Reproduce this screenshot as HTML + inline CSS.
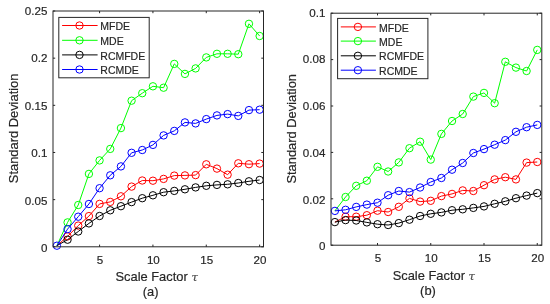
<!DOCTYPE html>
<html><head><meta charset="utf-8"><title>Standard Deviation vs Scale Factor</title>
<style>
html,body{margin:0;padding:0;background:#fff;}
body{width:550px;height:304px;overflow:hidden;}
svg{display:block;}
text{font-family:"Liberation Sans",Arial,sans-serif;fill:#262626;stroke:#262626;stroke-width:0.18px;}
.tk{font-size:11.6px;}
.lg{font-size:10.5px;}
.lb{font-size:12.9px;}
.tau{font-family:"DejaVu Serif",serif;font-style:italic;font-size:11.5px;fill:#555;}
</style></head>
<body>
<svg width="550" height="304" viewBox="0 0 550 304">
<rect width="550" height="304" fill="#fff"/>
<polyline points="56.9,245.7 67.57,236.4 78.24,225.6 88.91,216.1 99.58,203.9 110.25,201.9 120.92,196.3 131.59,186.6 142.26,180.5 152.93,180.7 163.6,178.9 174.27,175.6 184.94,175.4 195.61,175.1 206.28,164.3 216.95,168.6 227.62,174.7 238.29,163.3 248.96,164.2 259.63,163.6" fill="none" stroke="#ff0000" stroke-width="1"/>
<circle cx="67.57" cy="236.4" r="3.7" fill="none" stroke="#ff0000" stroke-width="1"/>
<circle cx="78.24" cy="225.6" r="3.7" fill="none" stroke="#ff0000" stroke-width="1"/>
<circle cx="88.91" cy="216.1" r="3.7" fill="none" stroke="#ff0000" stroke-width="1"/>
<circle cx="99.58" cy="203.9" r="3.7" fill="none" stroke="#ff0000" stroke-width="1"/>
<circle cx="110.25" cy="201.9" r="3.7" fill="none" stroke="#ff0000" stroke-width="1"/>
<circle cx="120.92" cy="196.3" r="3.7" fill="none" stroke="#ff0000" stroke-width="1"/>
<circle cx="131.59" cy="186.6" r="3.7" fill="none" stroke="#ff0000" stroke-width="1"/>
<circle cx="142.26" cy="180.5" r="3.7" fill="none" stroke="#ff0000" stroke-width="1"/>
<circle cx="152.93" cy="180.7" r="3.7" fill="none" stroke="#ff0000" stroke-width="1"/>
<circle cx="163.6" cy="178.9" r="3.7" fill="none" stroke="#ff0000" stroke-width="1"/>
<circle cx="174.27" cy="175.6" r="3.7" fill="none" stroke="#ff0000" stroke-width="1"/>
<circle cx="184.94" cy="175.4" r="3.7" fill="none" stroke="#ff0000" stroke-width="1"/>
<circle cx="195.61" cy="175.1" r="3.7" fill="none" stroke="#ff0000" stroke-width="1"/>
<circle cx="206.28" cy="164.3" r="3.7" fill="none" stroke="#ff0000" stroke-width="1"/>
<circle cx="216.95" cy="168.6" r="3.7" fill="none" stroke="#ff0000" stroke-width="1"/>
<circle cx="227.62" cy="174.7" r="3.7" fill="none" stroke="#ff0000" stroke-width="1"/>
<circle cx="238.29" cy="163.3" r="3.7" fill="none" stroke="#ff0000" stroke-width="1"/>
<circle cx="248.96" cy="164.2" r="3.7" fill="none" stroke="#ff0000" stroke-width="1"/>
<circle cx="259.63" cy="163.6" r="3.7" fill="none" stroke="#ff0000" stroke-width="1"/>
<polyline points="56.9,245.7 67.57,222.4 78.24,205 88.91,173.9 99.58,160.4 110.25,148.9 120.92,128.1 131.59,100.7 142.26,93.2 152.93,86.3 163.6,87.7 174.27,63.9 184.94,73.9 195.61,68.4 206.28,57.4 216.95,53.8 227.62,53.8 238.29,54.2 248.96,23.8 259.63,36" fill="none" stroke="#00ff00" stroke-width="1"/>
<circle cx="67.57" cy="222.4" r="3.7" fill="none" stroke="#00ff00" stroke-width="1"/>
<circle cx="78.24" cy="205" r="3.7" fill="none" stroke="#00ff00" stroke-width="1"/>
<circle cx="88.91" cy="173.9" r="3.7" fill="none" stroke="#00ff00" stroke-width="1"/>
<circle cx="99.58" cy="160.4" r="3.7" fill="none" stroke="#00ff00" stroke-width="1"/>
<circle cx="110.25" cy="148.9" r="3.7" fill="none" stroke="#00ff00" stroke-width="1"/>
<circle cx="120.92" cy="128.1" r="3.7" fill="none" stroke="#00ff00" stroke-width="1"/>
<circle cx="131.59" cy="100.7" r="3.7" fill="none" stroke="#00ff00" stroke-width="1"/>
<circle cx="142.26" cy="93.2" r="3.7" fill="none" stroke="#00ff00" stroke-width="1"/>
<circle cx="152.93" cy="86.3" r="3.7" fill="none" stroke="#00ff00" stroke-width="1"/>
<circle cx="163.6" cy="87.7" r="3.7" fill="none" stroke="#00ff00" stroke-width="1"/>
<circle cx="174.27" cy="63.9" r="3.7" fill="none" stroke="#00ff00" stroke-width="1"/>
<circle cx="184.94" cy="73.9" r="3.7" fill="none" stroke="#00ff00" stroke-width="1"/>
<circle cx="195.61" cy="68.4" r="3.7" fill="none" stroke="#00ff00" stroke-width="1"/>
<circle cx="206.28" cy="57.4" r="3.7" fill="none" stroke="#00ff00" stroke-width="1"/>
<circle cx="216.95" cy="53.8" r="3.7" fill="none" stroke="#00ff00" stroke-width="1"/>
<circle cx="227.62" cy="53.8" r="3.7" fill="none" stroke="#00ff00" stroke-width="1"/>
<circle cx="238.29" cy="54.2" r="3.7" fill="none" stroke="#00ff00" stroke-width="1"/>
<circle cx="248.96" cy="23.8" r="3.7" fill="none" stroke="#00ff00" stroke-width="1"/>
<circle cx="259.63" cy="36" r="3.7" fill="none" stroke="#00ff00" stroke-width="1"/>
<polyline points="56.9,245.7 67.57,239.7 78.24,231.5 88.91,223.4 99.58,216 110.25,210.3 120.92,206.2 131.59,202.1 142.26,198.2 152.93,195.3 163.6,192.2 174.27,190.9 184.94,189.3 195.61,187.4 206.28,185.8 216.95,184.9 227.62,184.3 238.29,183 248.96,181.3 259.63,180" fill="none" stroke="#000000" stroke-width="1"/>
<circle cx="67.57" cy="239.7" r="3.7" fill="none" stroke="#000000" stroke-width="1"/>
<circle cx="78.24" cy="231.5" r="3.7" fill="none" stroke="#000000" stroke-width="1"/>
<circle cx="88.91" cy="223.4" r="3.7" fill="none" stroke="#000000" stroke-width="1"/>
<circle cx="99.58" cy="216" r="3.7" fill="none" stroke="#000000" stroke-width="1"/>
<circle cx="110.25" cy="210.3" r="3.7" fill="none" stroke="#000000" stroke-width="1"/>
<circle cx="120.92" cy="206.2" r="3.7" fill="none" stroke="#000000" stroke-width="1"/>
<circle cx="131.59" cy="202.1" r="3.7" fill="none" stroke="#000000" stroke-width="1"/>
<circle cx="142.26" cy="198.2" r="3.7" fill="none" stroke="#000000" stroke-width="1"/>
<circle cx="152.93" cy="195.3" r="3.7" fill="none" stroke="#000000" stroke-width="1"/>
<circle cx="163.6" cy="192.2" r="3.7" fill="none" stroke="#000000" stroke-width="1"/>
<circle cx="174.27" cy="190.9" r="3.7" fill="none" stroke="#000000" stroke-width="1"/>
<circle cx="184.94" cy="189.3" r="3.7" fill="none" stroke="#000000" stroke-width="1"/>
<circle cx="195.61" cy="187.4" r="3.7" fill="none" stroke="#000000" stroke-width="1"/>
<circle cx="206.28" cy="185.8" r="3.7" fill="none" stroke="#000000" stroke-width="1"/>
<circle cx="216.95" cy="184.9" r="3.7" fill="none" stroke="#000000" stroke-width="1"/>
<circle cx="227.62" cy="184.3" r="3.7" fill="none" stroke="#000000" stroke-width="1"/>
<circle cx="238.29" cy="183" r="3.7" fill="none" stroke="#000000" stroke-width="1"/>
<circle cx="248.96" cy="181.3" r="3.7" fill="none" stroke="#000000" stroke-width="1"/>
<circle cx="259.63" cy="180" r="3.7" fill="none" stroke="#000000" stroke-width="1"/>
<polyline points="56.9,245.7 67.57,229.1 78.24,216.7 88.91,204 99.58,188.2 110.25,175.3 120.92,166.4 131.59,152.8 142.26,150 152.93,144.9 163.6,135.4 174.27,130.9 184.94,122.4 195.61,123.4 206.28,119.1 216.95,115.4 227.62,114.1 238.29,115.9 248.96,110.1 259.63,109.7" fill="none" stroke="#0000ff" stroke-width="1"/>
<circle cx="56.9" cy="245.7" r="3.7" fill="none" stroke="#0000ff" stroke-width="1"/>
<circle cx="67.57" cy="229.1" r="3.7" fill="none" stroke="#0000ff" stroke-width="1"/>
<circle cx="78.24" cy="216.7" r="3.7" fill="none" stroke="#0000ff" stroke-width="1"/>
<circle cx="88.91" cy="204" r="3.7" fill="none" stroke="#0000ff" stroke-width="1"/>
<circle cx="99.58" cy="188.2" r="3.7" fill="none" stroke="#0000ff" stroke-width="1"/>
<circle cx="110.25" cy="175.3" r="3.7" fill="none" stroke="#0000ff" stroke-width="1"/>
<circle cx="120.92" cy="166.4" r="3.7" fill="none" stroke="#0000ff" stroke-width="1"/>
<circle cx="131.59" cy="152.8" r="3.7" fill="none" stroke="#0000ff" stroke-width="1"/>
<circle cx="142.26" cy="150" r="3.7" fill="none" stroke="#0000ff" stroke-width="1"/>
<circle cx="152.93" cy="144.9" r="3.7" fill="none" stroke="#0000ff" stroke-width="1"/>
<circle cx="163.6" cy="135.4" r="3.7" fill="none" stroke="#0000ff" stroke-width="1"/>
<circle cx="174.27" cy="130.9" r="3.7" fill="none" stroke="#0000ff" stroke-width="1"/>
<circle cx="184.94" cy="122.4" r="3.7" fill="none" stroke="#0000ff" stroke-width="1"/>
<circle cx="195.61" cy="123.4" r="3.7" fill="none" stroke="#0000ff" stroke-width="1"/>
<circle cx="206.28" cy="119.1" r="3.7" fill="none" stroke="#0000ff" stroke-width="1"/>
<circle cx="216.95" cy="115.4" r="3.7" fill="none" stroke="#0000ff" stroke-width="1"/>
<circle cx="227.62" cy="114.1" r="3.7" fill="none" stroke="#0000ff" stroke-width="1"/>
<circle cx="238.29" cy="115.9" r="3.7" fill="none" stroke="#0000ff" stroke-width="1"/>
<circle cx="248.96" cy="110.1" r="3.7" fill="none" stroke="#0000ff" stroke-width="1"/>
<circle cx="259.63" cy="109.7" r="3.7" fill="none" stroke="#0000ff" stroke-width="1"/>
<rect x="53" y="11" width="210.5" height="235.8" fill="none" stroke="#262626" stroke-width="1"/>
<line x1="99.58" y1="246.8" x2="99.58" y2="244.6" stroke="#262626" stroke-width="1"/>
<line x1="99.58" y1="11" x2="99.58" y2="13.2" stroke="#262626" stroke-width="1"/>
<text x="99.98" y="263.8" text-anchor="middle" class="tk">5</text>
<line x1="152.93" y1="246.8" x2="152.93" y2="244.6" stroke="#262626" stroke-width="1"/>
<line x1="152.93" y1="11" x2="152.93" y2="13.2" stroke="#262626" stroke-width="1"/>
<text x="153.33" y="263.8" text-anchor="middle" class="tk">10</text>
<line x1="206.28" y1="246.8" x2="206.28" y2="244.6" stroke="#262626" stroke-width="1"/>
<line x1="206.28" y1="11" x2="206.28" y2="13.2" stroke="#262626" stroke-width="1"/>
<text x="206.68" y="263.8" text-anchor="middle" class="tk">15</text>
<line x1="259.63" y1="246.8" x2="259.63" y2="244.6" stroke="#262626" stroke-width="1"/>
<line x1="259.63" y1="11" x2="259.63" y2="13.2" stroke="#262626" stroke-width="1"/>
<text x="260.03" y="263.8" text-anchor="middle" class="tk">20</text>
<line x1="53" y1="246.8" x2="55.2" y2="246.8" stroke="#262626" stroke-width="1"/>
<line x1="263.5" y1="246.8" x2="261.3" y2="246.8" stroke="#262626" stroke-width="1"/>
<text x="47.4" y="252.05" text-anchor="end" class="tk">0</text>
<line x1="53" y1="199.64" x2="55.2" y2="199.64" stroke="#262626" stroke-width="1"/>
<line x1="263.5" y1="199.64" x2="261.3" y2="199.64" stroke="#262626" stroke-width="1"/>
<text x="47.4" y="204.5" text-anchor="end" class="tk">0.05</text>
<line x1="53" y1="152.48" x2="55.2" y2="152.48" stroke="#262626" stroke-width="1"/>
<line x1="263.5" y1="152.48" x2="261.3" y2="152.48" stroke="#262626" stroke-width="1"/>
<text x="47.4" y="157.35" text-anchor="end" class="tk">0.1</text>
<line x1="53" y1="105.32" x2="55.2" y2="105.32" stroke="#262626" stroke-width="1"/>
<line x1="263.5" y1="105.32" x2="261.3" y2="105.32" stroke="#262626" stroke-width="1"/>
<text x="47.4" y="109.75" text-anchor="end" class="tk">0.15</text>
<line x1="53" y1="58.16" x2="55.2" y2="58.16" stroke="#262626" stroke-width="1"/>
<line x1="263.5" y1="58.16" x2="261.3" y2="58.16" stroke="#262626" stroke-width="1"/>
<text x="47.4" y="62.25" text-anchor="end" class="tk">0.2</text>
<line x1="53" y1="11" x2="55.2" y2="11" stroke="#262626" stroke-width="1"/>
<line x1="263.5" y1="11" x2="261.3" y2="11" stroke="#262626" stroke-width="1"/>
<text x="47.4" y="15" text-anchor="end" class="tk">0.25</text>
<rect x="58.8" y="17.4" width="90.4" height="60.4" fill="#ffffff" stroke="#262626" stroke-width="1"/>
<line x1="62.1" y1="25.5" x2="97.6" y2="25.5" stroke="#ff0000" stroke-width="1"/>
<circle cx="79.5" cy="25.5" r="3.7" fill="none" stroke="#ff0000" stroke-width="1"/>
<text x="100.3" y="30.1" class="lg">MFDE</text>
<line x1="62.1" y1="40.3" x2="97.6" y2="40.3" stroke="#00ff00" stroke-width="1"/>
<circle cx="79.5" cy="40.3" r="3.7" fill="none" stroke="#00ff00" stroke-width="1"/>
<text x="100.3" y="44.9" class="lg">MDE</text>
<line x1="62.1" y1="54.9" x2="97.6" y2="54.9" stroke="#000000" stroke-width="1"/>
<circle cx="79.5" cy="54.9" r="3.7" fill="none" stroke="#000000" stroke-width="1"/>
<text x="100.3" y="59.5" class="lg">RCMFDE</text>
<line x1="62.1" y1="69.5" x2="97.6" y2="69.5" stroke="#0000ff" stroke-width="1"/>
<circle cx="79.5" cy="69.5" r="3.7" fill="none" stroke="#0000ff" stroke-width="1"/>
<text x="100.3" y="74.1" class="lg">RCMDE</text>
<text x="156.6" y="281.1" text-anchor="middle" class="lb">Scale Factor <tspan class="tau">&#964;</tspan></text>
<text x="150.6" y="296.4" text-anchor="middle" class="lb">(a)</text>
<text transform="translate(17.6,128.4) rotate(-90)" text-anchor="middle" class="lb">Standard Deviation</text>
<polyline points="334.9,222.1 345.55,216.7 356.2,216.7 366.85,215.2 377.5,210.7 388.15,212 398.8,206.8 409.45,198.4 420.1,201.6 430.75,200.8 441.4,196.1 452.05,193.9 462.7,190.4 473.35,191 484,185.2 494.65,179.4 505.3,177.2 515.95,179.4 526.6,162.6 537.25,162" fill="none" stroke="#ff0000" stroke-width="1"/>
<circle cx="345.55" cy="216.7" r="3.7" fill="none" stroke="#ff0000" stroke-width="1"/>
<circle cx="356.2" cy="216.7" r="3.7" fill="none" stroke="#ff0000" stroke-width="1"/>
<circle cx="366.85" cy="215.2" r="3.7" fill="none" stroke="#ff0000" stroke-width="1"/>
<circle cx="377.5" cy="210.7" r="3.7" fill="none" stroke="#ff0000" stroke-width="1"/>
<circle cx="388.15" cy="212" r="3.7" fill="none" stroke="#ff0000" stroke-width="1"/>
<circle cx="398.8" cy="206.8" r="3.7" fill="none" stroke="#ff0000" stroke-width="1"/>
<circle cx="409.45" cy="198.4" r="3.7" fill="none" stroke="#ff0000" stroke-width="1"/>
<circle cx="420.1" cy="201.6" r="3.7" fill="none" stroke="#ff0000" stroke-width="1"/>
<circle cx="430.75" cy="200.8" r="3.7" fill="none" stroke="#ff0000" stroke-width="1"/>
<circle cx="441.4" cy="196.1" r="3.7" fill="none" stroke="#ff0000" stroke-width="1"/>
<circle cx="452.05" cy="193.9" r="3.7" fill="none" stroke="#ff0000" stroke-width="1"/>
<circle cx="462.7" cy="190.4" r="3.7" fill="none" stroke="#ff0000" stroke-width="1"/>
<circle cx="473.35" cy="191" r="3.7" fill="none" stroke="#ff0000" stroke-width="1"/>
<circle cx="484" cy="185.2" r="3.7" fill="none" stroke="#ff0000" stroke-width="1"/>
<circle cx="494.65" cy="179.4" r="3.7" fill="none" stroke="#ff0000" stroke-width="1"/>
<circle cx="505.3" cy="177.2" r="3.7" fill="none" stroke="#ff0000" stroke-width="1"/>
<circle cx="515.95" cy="179.4" r="3.7" fill="none" stroke="#ff0000" stroke-width="1"/>
<circle cx="526.6" cy="162.6" r="3.7" fill="none" stroke="#ff0000" stroke-width="1"/>
<circle cx="537.25" cy="162" r="3.7" fill="none" stroke="#ff0000" stroke-width="1"/>
<polyline points="334.9,210.9 345.55,197 356.2,185.8 366.85,180.7 377.5,166.8 388.15,171.5 398.8,162.4 409.45,148.2 420.1,141.7 430.75,159.6 441.4,133.9 452.05,121 462.7,114 473.35,96.6 484,92.9 494.65,103.2 505.3,61.8 515.95,67.6 526.6,71 537.25,49.9" fill="none" stroke="#00ff00" stroke-width="1"/>
<circle cx="345.55" cy="197" r="3.7" fill="none" stroke="#00ff00" stroke-width="1"/>
<circle cx="356.2" cy="185.8" r="3.7" fill="none" stroke="#00ff00" stroke-width="1"/>
<circle cx="366.85" cy="180.7" r="3.7" fill="none" stroke="#00ff00" stroke-width="1"/>
<circle cx="377.5" cy="166.8" r="3.7" fill="none" stroke="#00ff00" stroke-width="1"/>
<circle cx="388.15" cy="171.5" r="3.7" fill="none" stroke="#00ff00" stroke-width="1"/>
<circle cx="398.8" cy="162.4" r="3.7" fill="none" stroke="#00ff00" stroke-width="1"/>
<circle cx="409.45" cy="148.2" r="3.7" fill="none" stroke="#00ff00" stroke-width="1"/>
<circle cx="420.1" cy="141.7" r="3.7" fill="none" stroke="#00ff00" stroke-width="1"/>
<circle cx="430.75" cy="159.6" r="3.7" fill="none" stroke="#00ff00" stroke-width="1"/>
<circle cx="441.4" cy="133.9" r="3.7" fill="none" stroke="#00ff00" stroke-width="1"/>
<circle cx="452.05" cy="121" r="3.7" fill="none" stroke="#00ff00" stroke-width="1"/>
<circle cx="462.7" cy="114" r="3.7" fill="none" stroke="#00ff00" stroke-width="1"/>
<circle cx="473.35" cy="96.6" r="3.7" fill="none" stroke="#00ff00" stroke-width="1"/>
<circle cx="484" cy="92.9" r="3.7" fill="none" stroke="#00ff00" stroke-width="1"/>
<circle cx="494.65" cy="103.2" r="3.7" fill="none" stroke="#00ff00" stroke-width="1"/>
<circle cx="505.3" cy="61.8" r="3.7" fill="none" stroke="#00ff00" stroke-width="1"/>
<circle cx="515.95" cy="67.6" r="3.7" fill="none" stroke="#00ff00" stroke-width="1"/>
<circle cx="526.6" cy="71" r="3.7" fill="none" stroke="#00ff00" stroke-width="1"/>
<circle cx="537.25" cy="49.9" r="3.7" fill="none" stroke="#00ff00" stroke-width="1"/>
<polyline points="334.9,222.1 345.55,220.1 356.2,220.5 366.85,222.4 377.5,224.2 388.15,225 398.8,223.1 409.45,219.7 420.1,216 430.75,213.8 441.4,212.4 452.05,210.2 462.7,209.3 473.35,207.9 484,206.4 494.65,203.8 505.3,201.3 515.95,198.2 526.6,195.6 537.25,193.1" fill="none" stroke="#000000" stroke-width="1"/>
<circle cx="334.9" cy="222.1" r="3.7" fill="none" stroke="#000000" stroke-width="1"/>
<circle cx="345.55" cy="220.1" r="3.7" fill="none" stroke="#000000" stroke-width="1"/>
<circle cx="356.2" cy="220.5" r="3.7" fill="none" stroke="#000000" stroke-width="1"/>
<circle cx="366.85" cy="222.4" r="3.7" fill="none" stroke="#000000" stroke-width="1"/>
<circle cx="377.5" cy="224.2" r="3.7" fill="none" stroke="#000000" stroke-width="1"/>
<circle cx="388.15" cy="225" r="3.7" fill="none" stroke="#000000" stroke-width="1"/>
<circle cx="398.8" cy="223.1" r="3.7" fill="none" stroke="#000000" stroke-width="1"/>
<circle cx="409.45" cy="219.7" r="3.7" fill="none" stroke="#000000" stroke-width="1"/>
<circle cx="420.1" cy="216" r="3.7" fill="none" stroke="#000000" stroke-width="1"/>
<circle cx="430.75" cy="213.8" r="3.7" fill="none" stroke="#000000" stroke-width="1"/>
<circle cx="441.4" cy="212.4" r="3.7" fill="none" stroke="#000000" stroke-width="1"/>
<circle cx="452.05" cy="210.2" r="3.7" fill="none" stroke="#000000" stroke-width="1"/>
<circle cx="462.7" cy="209.3" r="3.7" fill="none" stroke="#000000" stroke-width="1"/>
<circle cx="473.35" cy="207.9" r="3.7" fill="none" stroke="#000000" stroke-width="1"/>
<circle cx="484" cy="206.4" r="3.7" fill="none" stroke="#000000" stroke-width="1"/>
<circle cx="494.65" cy="203.8" r="3.7" fill="none" stroke="#000000" stroke-width="1"/>
<circle cx="505.3" cy="201.3" r="3.7" fill="none" stroke="#000000" stroke-width="1"/>
<circle cx="515.95" cy="198.2" r="3.7" fill="none" stroke="#000000" stroke-width="1"/>
<circle cx="526.6" cy="195.6" r="3.7" fill="none" stroke="#000000" stroke-width="1"/>
<circle cx="537.25" cy="193.1" r="3.7" fill="none" stroke="#000000" stroke-width="1"/>
<polyline points="334.9,210.9 345.55,209.8 356.2,206.9 366.85,204.6 377.5,202.7 388.15,195.2 398.8,191 409.45,192.1 420.1,187.5 430.75,182 441.4,178 452.05,169.7 462.7,163 473.35,153 484,149.1 494.65,144.7 505.3,140.1 515.95,131.8 526.6,127.2 537.25,124.9" fill="none" stroke="#0000ff" stroke-width="1"/>
<circle cx="334.9" cy="210.9" r="3.7" fill="none" stroke="#0000ff" stroke-width="1"/>
<circle cx="345.55" cy="209.8" r="3.7" fill="none" stroke="#0000ff" stroke-width="1"/>
<circle cx="356.2" cy="206.9" r="3.7" fill="none" stroke="#0000ff" stroke-width="1"/>
<circle cx="366.85" cy="204.6" r="3.7" fill="none" stroke="#0000ff" stroke-width="1"/>
<circle cx="377.5" cy="202.7" r="3.7" fill="none" stroke="#0000ff" stroke-width="1"/>
<circle cx="388.15" cy="195.2" r="3.7" fill="none" stroke="#0000ff" stroke-width="1"/>
<circle cx="398.8" cy="191" r="3.7" fill="none" stroke="#0000ff" stroke-width="1"/>
<circle cx="409.45" cy="192.1" r="3.7" fill="none" stroke="#0000ff" stroke-width="1"/>
<circle cx="420.1" cy="187.5" r="3.7" fill="none" stroke="#0000ff" stroke-width="1"/>
<circle cx="430.75" cy="182" r="3.7" fill="none" stroke="#0000ff" stroke-width="1"/>
<circle cx="441.4" cy="178" r="3.7" fill="none" stroke="#0000ff" stroke-width="1"/>
<circle cx="452.05" cy="169.7" r="3.7" fill="none" stroke="#0000ff" stroke-width="1"/>
<circle cx="462.7" cy="163" r="3.7" fill="none" stroke="#0000ff" stroke-width="1"/>
<circle cx="473.35" cy="153" r="3.7" fill="none" stroke="#0000ff" stroke-width="1"/>
<circle cx="484" cy="149.1" r="3.7" fill="none" stroke="#0000ff" stroke-width="1"/>
<circle cx="494.65" cy="144.7" r="3.7" fill="none" stroke="#0000ff" stroke-width="1"/>
<circle cx="505.3" cy="140.1" r="3.7" fill="none" stroke="#0000ff" stroke-width="1"/>
<circle cx="515.95" cy="131.8" r="3.7" fill="none" stroke="#0000ff" stroke-width="1"/>
<circle cx="526.6" cy="127.2" r="3.7" fill="none" stroke="#0000ff" stroke-width="1"/>
<circle cx="537.25" cy="124.9" r="3.7" fill="none" stroke="#0000ff" stroke-width="1"/>
<rect x="331" y="13.2" width="210.8" height="232" fill="none" stroke="#262626" stroke-width="1"/>
<line x1="377.5" y1="245.2" x2="377.5" y2="243" stroke="#262626" stroke-width="1"/>
<line x1="377.5" y1="13.2" x2="377.5" y2="15.4" stroke="#262626" stroke-width="1"/>
<text x="377.9" y="262.2" text-anchor="middle" class="tk">5</text>
<line x1="430.75" y1="245.2" x2="430.75" y2="243" stroke="#262626" stroke-width="1"/>
<line x1="430.75" y1="13.2" x2="430.75" y2="15.4" stroke="#262626" stroke-width="1"/>
<text x="431.15" y="262.2" text-anchor="middle" class="tk">10</text>
<line x1="484" y1="245.2" x2="484" y2="243" stroke="#262626" stroke-width="1"/>
<line x1="484" y1="13.2" x2="484" y2="15.4" stroke="#262626" stroke-width="1"/>
<text x="484.4" y="262.2" text-anchor="middle" class="tk">15</text>
<line x1="537.25" y1="245.2" x2="537.25" y2="243" stroke="#262626" stroke-width="1"/>
<line x1="537.25" y1="13.2" x2="537.25" y2="15.4" stroke="#262626" stroke-width="1"/>
<text x="537.65" y="262.2" text-anchor="middle" class="tk">20</text>
<line x1="331" y1="245.2" x2="333.2" y2="245.2" stroke="#262626" stroke-width="1"/>
<line x1="541.8" y1="245.2" x2="539.6" y2="245.2" stroke="#262626" stroke-width="1"/>
<text x="325.4" y="250.25" text-anchor="end" class="tk">0</text>
<line x1="331" y1="198.8" x2="333.2" y2="198.8" stroke="#262626" stroke-width="1"/>
<line x1="541.8" y1="198.8" x2="539.6" y2="198.8" stroke="#262626" stroke-width="1"/>
<text x="325.4" y="203.8" text-anchor="end" class="tk">0.02</text>
<line x1="331" y1="152.4" x2="333.2" y2="152.4" stroke="#262626" stroke-width="1"/>
<line x1="541.8" y1="152.4" x2="539.6" y2="152.4" stroke="#262626" stroke-width="1"/>
<text x="325.4" y="157.15" text-anchor="end" class="tk">0.04</text>
<line x1="331" y1="106" x2="333.2" y2="106" stroke="#262626" stroke-width="1"/>
<line x1="541.8" y1="106" x2="539.6" y2="106" stroke="#262626" stroke-width="1"/>
<text x="325.4" y="110.35" text-anchor="end" class="tk">0.06</text>
<line x1="331" y1="59.6" x2="333.2" y2="59.6" stroke="#262626" stroke-width="1"/>
<line x1="541.8" y1="59.6" x2="539.6" y2="59.6" stroke="#262626" stroke-width="1"/>
<text x="325.4" y="63.45" text-anchor="end" class="tk">0.08</text>
<line x1="331" y1="13.2" x2="333.2" y2="13.2" stroke="#262626" stroke-width="1"/>
<line x1="541.8" y1="13.2" x2="539.6" y2="13.2" stroke="#262626" stroke-width="1"/>
<text x="325.4" y="17.4" text-anchor="end" class="tk">0.1</text>
<rect x="337.6" y="18.4" width="90.3" height="60.3" fill="#ffffff" stroke="#262626" stroke-width="1"/>
<line x1="340.8" y1="26.9" x2="375.9" y2="26.9" stroke="#ff0000" stroke-width="1"/>
<circle cx="357.9" cy="26.9" r="3.7" fill="none" stroke="#ff0000" stroke-width="1"/>
<text x="379.1" y="31.5" class="lg">MFDE</text>
<line x1="340.8" y1="41.1" x2="375.9" y2="41.1" stroke="#00ff00" stroke-width="1"/>
<circle cx="357.9" cy="41.1" r="3.7" fill="none" stroke="#00ff00" stroke-width="1"/>
<text x="379.1" y="45.7" class="lg">MDE</text>
<line x1="340.8" y1="55.8" x2="375.9" y2="55.8" stroke="#000000" stroke-width="1"/>
<circle cx="357.9" cy="55.8" r="3.7" fill="none" stroke="#000000" stroke-width="1"/>
<text x="379.1" y="60.4" class="lg">RCMFDE</text>
<line x1="340.8" y1="70.2" x2="375.9" y2="70.2" stroke="#0000ff" stroke-width="1"/>
<circle cx="357.9" cy="70.2" r="3.7" fill="none" stroke="#0000ff" stroke-width="1"/>
<text x="379.1" y="74.8" class="lg">RCMDE</text>
<text x="433.8" y="279.5" text-anchor="middle" class="lb">Scale Factor <tspan class="tau">&#964;</tspan></text>
<text x="428" y="294.9" text-anchor="middle" class="lb">(b)</text>
<text transform="translate(295.6,128.8) rotate(-90)" text-anchor="middle" class="lb">Standard Deviation</text>
</svg>
</body></html>
